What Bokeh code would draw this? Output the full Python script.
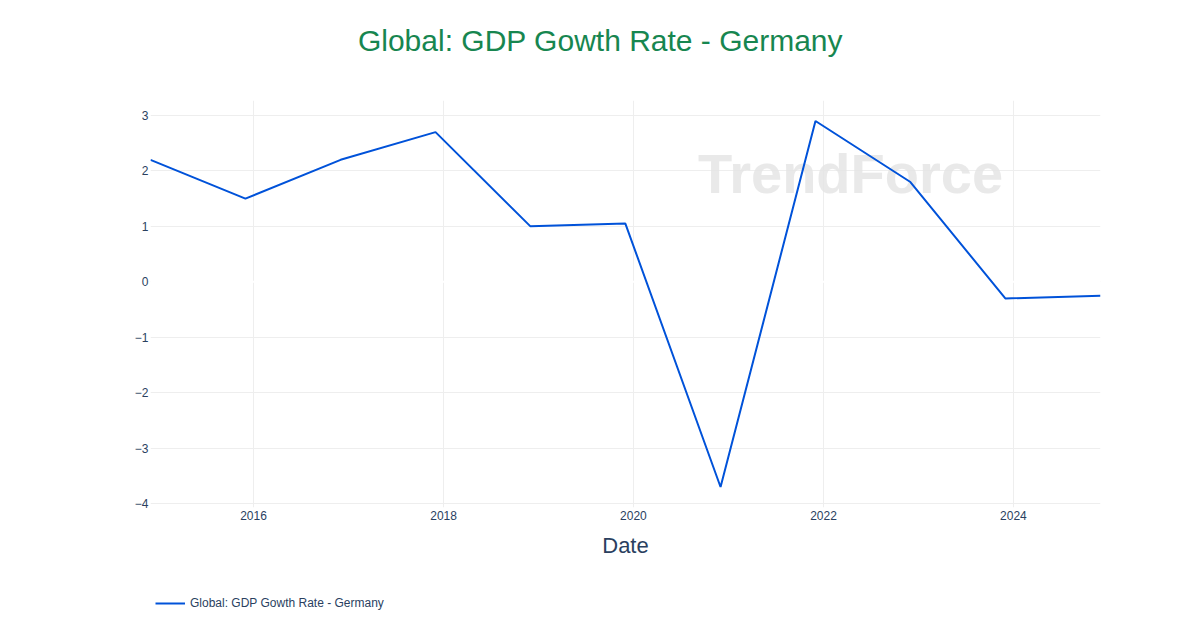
from datetime import datetime
from bokeh.plotting import figure
from bokeh.layouts import column
from bokeh.models import (ColumnDataSource, Range1d, FixedTicker, DatetimeTickFormatter,
                          Legend, LegendItem, Span, Label)
from bokeh.embed import file_html
from bokeh.resources import INLINE

dates = ["2014-12-01", "2015-12-01", "2016-12-01", "2017-12-01", "2018-12-01", "2019-12-01",
         "2020-12-01", "2021-12-01", "2022-12-01", "2023-12-01", "2024-12-01"]
gdp_growth = [2.2, 1.5, 2.2, 2.7, 1.0, 1.05, -3.7, 2.9, 1.8, -0.3, -0.25]
x_tick_years = [2016, 2018, 2020, 2022, 2024]
y_ticks = [-4, -3, -2, -1, 0, 1, 2, 3]
series_name = "Global: GDP Gowth Rate - Germany"
chart_title = "Global: GDP Gowth Rate - Germany"

xs = [datetime.strptime(d, "%Y-%m-%d") for d in dates]
src = ColumnDataSource(dict(x=xs, y=gdp_growth))

FONT = "Liberation Sans"
TXT = "#2a3f5f"
LINE = "#0052d9"


def strip(height, xr, yr):
    f = figure(width=1200, height=height, output_backend="svg", toolbar_location=None,
               x_range=xr, y_range=yr, min_border=0)
    f.axis.visible = False
    f.grid.visible = False
    f.outline_line_color = None
    return f


# title strip (frame aligned with the chart frame: 150..1100 px)
top = strip(100, Range1d(150, 1100), Range1d(100, 0))
top.add_layout(Label(x=600, y=40, text=chart_title, text_font=FONT, text_font_size="30px",
                     text_color="#178650", text_align="center", text_baseline="middle"))

p = figure(width=1200, height=480, x_axis_type="datetime", output_backend="svg",
           toolbar_location=None, min_border_left=150, min_border_right=100,
           min_border_top=0, min_border_bottom=73,
           x_range=Range1d(xs[0], xs[-1]), y_range=Range1d(-4.07, 3.27))
p.outline_line_color = None

# watermark
p.add_layout(Label(x=datetime(2022, 4, 15), y=1.95, text="TrendForce", text_font=FONT,
                   text_font_style="bold", text_font_size="56px", text_color="#e3e3e3",
                   text_align="center", text_baseline="middle", text_alpha=0.8,
                   level="underlay"))

p.xgrid.grid_line_color = "#eeeeee"
p.ygrid.grid_line_color = "#eeeeee"
p.add_layout(Span(location=0, dimension="width", line_color="white", line_width=2,
                  level="underlay"))

tick_ms = [datetime(y, 1, 1).timestamp() * 1000 for y in x_tick_years]
p.xaxis.ticker = FixedTicker(ticks=tick_ms)
p.xaxis.formatter = DatetimeTickFormatter(years="%Y", months="%Y", days="%Y", hours="%Y")
p.yaxis.ticker = FixedTicker(ticks=y_ticks)
p.yaxis.major_label_overrides = {t: (str(t).replace("-", "\u2212")) for t in y_ticks}

for ax in (p.xaxis[0], p.yaxis[0]):
    ax.axis_line_color = None
    ax.major_tick_line_color = None
    ax.minor_tick_line_color = None
    ax.major_label_text_font = FONT
    ax.major_label_text_font_size = "12px"
    ax.major_label_text_color = TXT
p.yaxis.major_label_standoff = -4
p.xaxis.major_label_standoff = -3
p.xaxis.axis_label = "Date"
p.xaxis.axis_label_text_font = FONT
p.xaxis.axis_label_text_font_size = "22px"
p.xaxis.axis_label_text_font_style = "normal"
p.xaxis.axis_label_text_color = TXT
p.xaxis.axis_label_standoff = 10

p.line("x", "y", source=src, line_color=LINE, line_width=2)

# legend strip below the chart
lg = strip(50, Range1d(0, 1), Range1d(0, 1))
r2 = lg.line("x", "y", source=src, line_color=LINE, line_width=2)
legend = Legend(items=[LegendItem(label=series_name, renderers=[r2])], location=(5, 17),
                orientation="horizontal", label_text_font=FONT, label_text_font_size="12px",
                label_text_color=TXT, border_line_color=None, background_fill_alpha=0,
                glyph_width=30, label_standoff=5, padding=0, margin=0)
lg.add_layout(legend, "center")

layout = column(top, p, lg, spacing=0)
open("out.html", "w").write(file_html(layout, INLINE))
